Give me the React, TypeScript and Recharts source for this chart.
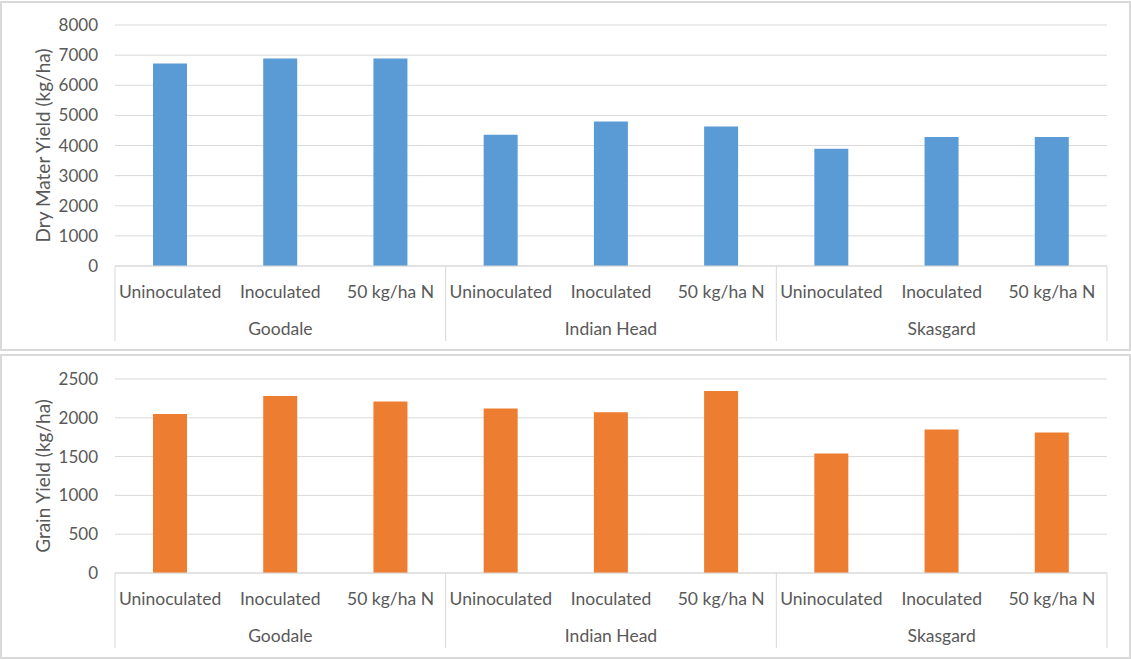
import { Bar, BarChart, CartesianGrid, XAxis, YAxis } from "recharts";

const treatments = ["Uninoculated", "Inoculated", "50 kg/ha N"];
const sites = ["Goodale", "Indian Head", "Skasgard"];

// one value per site x treatment, site-major
const dryMatterYield = [6720, 6890, 6890, 4360, 4800, 4630, 3890, 4280, 4280];
const grainYield = [2050, 2280, 2210, 2120, 2070, 2345, 1540, 1850, 1810];

const dryMatterTicks = [0, 1000, 2000, 3000, 4000, 5000, 6000, 7000, 8000];
const grainTicks = [0, 500, 1000, 1500, 2000, 2500];

const TEXT = "#595959";
const LINE = "#d9d9d9";
const FONT = "Lato, 'Open Sans', sans-serif";
const LABEL_SIZE = 17.5;

const WIDTH = 1131;
const MARGIN_RIGHT = 24;
const Y_AXIS_W = 115;
const PLOT_W = WIDTH - MARGIN_RIGHT - Y_AXIS_W;

const buildRows = (values: number[]) =>
    sites.flatMap((site, s) =>
        treatments.map((treatment, t) => ({
            key: `${site} ${treatment}`,
            site,
            treatment,
            value: values[s * treatments.length + t],
        }))
    );

function GroupedTick(props: any) {
    const { x, y, index, rows } = props;
    const row = rows[index];
    if (!row) return null;
    const band = PLOT_W / rows.length;
    const per = treatments.length;
    return (
        <g>
            <text
                x={x}
                y={y + 25}
                textAnchor="middle"
                dominantBaseline="central"
                fill={TEXT}
                fontSize={LABEL_SIZE}
                fontFamily={FONT}
            >
                {row.treatment}
            </text>
            {index % per === 1 && (
                <text
                    x={x}
                    y={y + 62}
                    textAnchor="middle"
                    dominantBaseline="central"
                    fill={TEXT}
                    fontSize={LABEL_SIZE}
                    fontFamily={FONT}
                >
                    {row.site}
                </text>
            )}
            {index % per === 0 && (
                <line x1={x - band / 2} x2={x - band / 2} y1={y} y2={y + 75} stroke={LINE} />
            )}
            {index === rows.length - 1 && (
                <line x1={x + band / 2} x2={x + band / 2} y1={y} y2={y + 75} stroke={LINE} />
            )}
        </g>
    );
}

type PanelProps = {
    top: number;
    height: number;
    plotTop: number;
    axisHeight: number;
    values: number[];
    ticks: number[];
    color: string;
    title: string;
};

function Panel({ top, height, plotTop, axisHeight, values, ticks, color, title }: PanelProps) {
    const rows = buildRows(values);
    return (
        <div style={{ position: "absolute", left: 0, top, width: WIDTH, height }}>
            <BarChart
                width={WIDTH}
                height={height}
                data={rows}
                margin={{ top: plotTop, right: MARGIN_RIGHT, left: 0, bottom: 0 }}
                barCategoryGap={0}
            >
                <CartesianGrid vertical={false} stroke={LINE} />
                <XAxis
                    dataKey="key"
                    interval={0}
                    height={axisHeight}
                    axisLine={{ stroke: LINE }}
                    tickLine={false}
                    tickSize={0}
                    tickMargin={0}
                    tick={<GroupedTick rows={rows} />}
                />
                <YAxis
                    width={Y_AXIS_W}
                    domain={[0, ticks[ticks.length - 1]]}
                    ticks={ticks}
                    axisLine={false}
                    tickLine={false}
                    tickSize={6}
                    tickMargin={11}
                    tick={{ fill: TEXT, fontSize: 17, fontFamily: FONT }}
                    label={(p: any) => {
                        const vb = p.viewBox || {};
                        const cx = 42;
                        const cy = (vb.y ?? 0) + (vb.height ?? 0) / 2;
                        return (
                            <text
                                x={cx}
                                y={cy}
                                transform={`rotate(-90 ${cx} ${cy})`}
                                textAnchor="middle"
                                dominantBaseline="central"
                                fill={TEXT}
                                fontSize={19}
                                fontFamily={FONT}
                            >
                                {title}
                            </text>
                        );
                    }}
                />
                <Bar dataKey="value" fill={color} barSize={34} isAnimationActive={false} />
            </BarChart>
            <div
                style={{
                    position: "absolute",
                    left: 0,
                    top: 0,
                    width: WIDTH,
                    height,
                    boxSizing: "border-box",
                    border: `2px solid ${LINE}`,
                    pointerEvents: "none",
                }}
            />
        </div>
    );
}

export default function App() {
    return (
        <div
            style={{
                position: "absolute",
                left: 0,
                top: 0,
                width: WIDTH,
                height: 660,
                background: "#fff",
                fontFamily: FONT,
            }}
        >
            <Panel
                top={1}
                height={350}
                plotTop={24}
                axisHeight={85}
                values={dryMatterYield}
                ticks={dryMatterTicks}
                color="#5b9bd5"
                title="Dry Mater Yield (kg/ha)"
            />
            <Panel
                top={354}
                height={305}
                plotTop={25}
                axisHeight={86}
                values={grainYield}
                ticks={grainTicks}
                color="#ed7d31"
                title="Grain Yield (kg/ha)"
            />
        </div>
    );
}
